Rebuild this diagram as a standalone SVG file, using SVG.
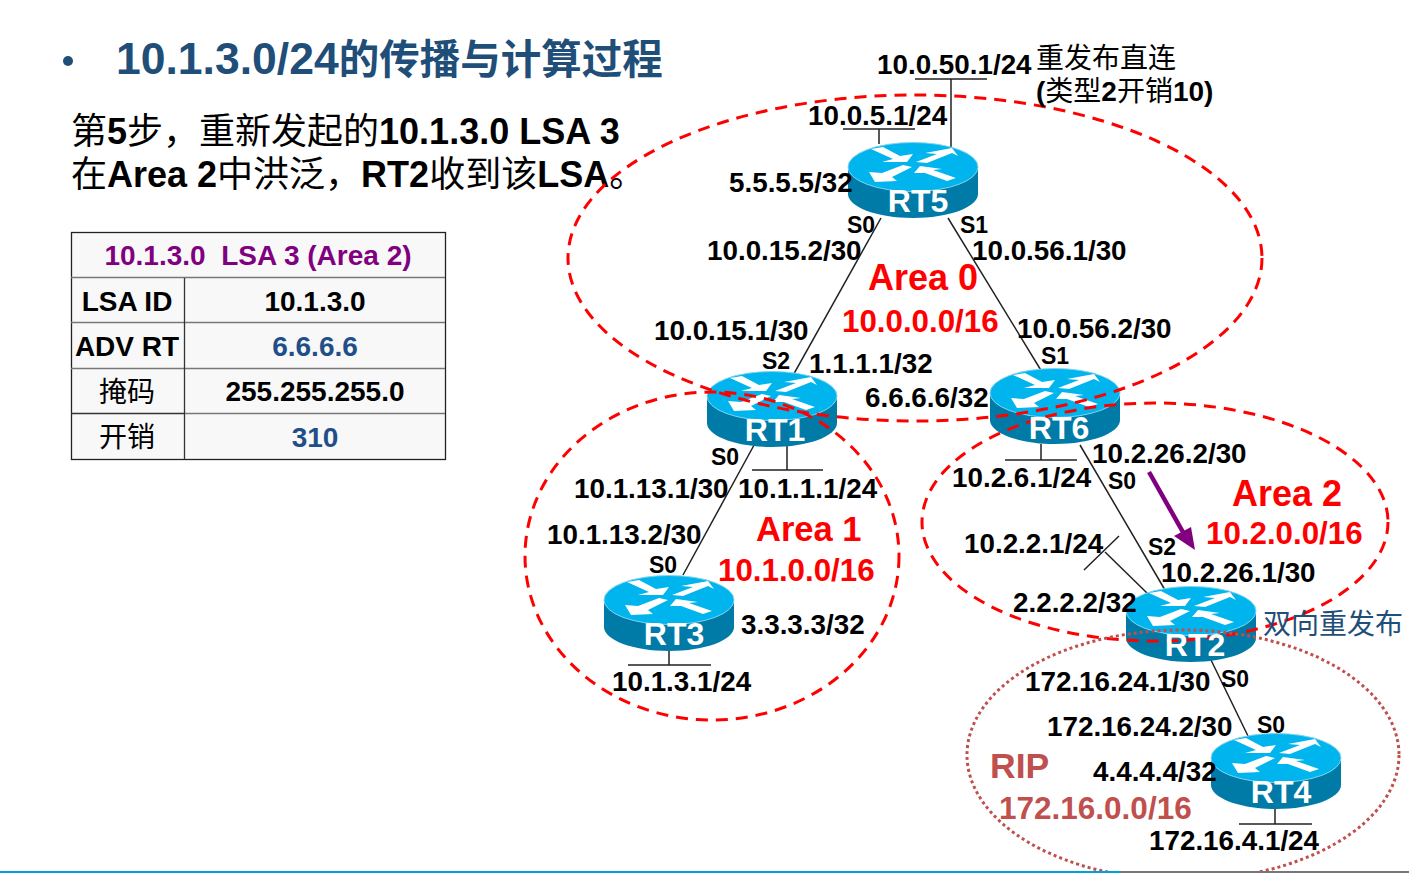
<svg xmlns="http://www.w3.org/2000/svg" width="1409" height="873" viewBox="0 0 1409 873">
<style>
text{font-family:"Liberation Sans","Noto Sans CJK SC",sans-serif;font-weight:700;fill:#000;white-space:pre}
.l{font-size:27.8px}
.s{font-size:23px}
.r{font-size:32px;fill:#fff;text-anchor:middle}
.a{font-size:36px;fill:#f00}
.n{font-size:31.3px;fill:#f00}
.c{text-anchor:middle}
.t{font-size:28px}
.w{font-weight:400}
.link{stroke:#222;stroke-width:1.5;fill:none}
.area{fill:none;stroke:#f00;stroke-width:3;stroke-dasharray:12 8}
.grid{stroke:#333;stroke-width:1.3;fill:none}
.gridh{stroke:#777;stroke-width:1.6;fill:none}
</style>
<defs>
<g id="router">
<path d="M-65 0V27C-65 40-36 51 0 51S65 40 65 27V0Z" fill="#007ba7"/>
<ellipse cx="0" cy="0" rx="65" ry="24.5" fill="#00b4ee" stroke="#7fd4ee" stroke-width="1"/>
<path d="M-42 -18L-30 -20L-13 -11L0 -13L-6 -5L-31 -5L-20 -8Z" fill="#fff"/>
<path d="M3 -5L24 -13L12 -14L39 -19L45 -11L39 -14L14 -4Z" fill="#fff"/>
<path d="M-44 5L-31 6L-10 -2L-1 0L-21 10L-16 14L-38 15Z" fill="#fff"/>
<path d="M1 6L7 -1L29 2L20 3L43 11L34 14L12 6Z" fill="#fff"/>
</g>
</defs>
<rect width="1409" height="873" fill="#fff"/>
<g id="title">
<circle cx="68" cy="61" r="5" fill="#1f4e79"/>
<text x="116" y="74" font-size="44.500" style="fill:#1f4e79">10.1.3.0/24<tspan font-size="40.500">的传播与计算过程</tspan></text>
</g>
<g id="description">
<text x="71" y="144" font-size="36"><tspan class="w">第</tspan>5<tspan class="w">步，重新发起的</tspan>10.1.3.0 LSA 3</text>
<text x="71" y="187" font-size="36"><tspan class="w">在</tspan>Area 2<tspan class="w">中洪泛，</tspan>RT2<tspan class="w">收到该</tspan>LSA<tspan class="w">。</tspan></text>
</g>
<g id="lsa-table">
<rect x="71.500" y="232.500" width="374" height="227" fill="#f8f8f8" stroke="#222" stroke-width="1.300"/>
<path class="gridh" d="M71 277.500H445M71 322.500H445M71 368.500H445M184 413.500H445"/>
<path class="grid" d="M71 413.500H184M184.500 278V459"/>
<text class="t c" x="258" y="265" style="fill:#800080">10.1.3.0  LSA 3 (Area 2)</text>
<text class="t c" x="127" y="311">LSA ID</text>
<text class="t c" x="315" y="311">10.1.3.0</text>
<text class="t c" x="127" y="356">ADV RT</text>
<text class="t c" x="315" y="356" style="fill:#1f4e89">6.6.6.6</text>
<text class="t c w" x="127" y="402">掩码</text>
<text class="t c" x="315" y="401">255.255.255.0</text>
<text class="t c w" x="127" y="447">开销</text>
<text class="t c" x="315" y="447" style="fill:#1f4e89">310</text>
</g>
<g id="connectors">
<path class="link" d="M881 218L753 447L683 575M948 218L1042 372M1080 445L1165 590M1211 660L1248 736"/>
<path class="link" d="M843 129H915M879 129V144M915 79H987M951 79V148"/>
<path class="link" d="M1005 460H1077M1041 444V460M787 446V470M752 470H823M669 651V665M628 665H711M1275 808V824M1239 824H1312M1084 570L1119 536M1105 552L1147 593"/>
<path d="M1149 472L1188 541" stroke="#800080" stroke-width="4.500" fill="none"/>
<path d="M1195 550L1174 536L1191 527Z" fill="#800080"/>
</g>
<g id="RT5"><use href="#router" x="913" y="167"/></g>
<g id="RT1"><use href="#router" x="772" y="396"/></g>
<g id="RT6"><use href="#router" x="1055" y="393"/></g>
<g id="RT3"><use href="#router" x="669" y="600"/></g>
<g id="RT2"><use href="#router" x="1191" y="611"/></g>
<g id="RT4"><use href="#router" x="1276" y="758"/></g>
<g id="areas">
<ellipse class="area" cx="915" cy="258" rx="347" ry="163"/>
<ellipse class="area" cx="712" cy="556" rx="187" ry="164"/>
<ellipse class="area" cx="1155" cy="522" rx="233" ry="119"/>
<ellipse cx="1183" cy="755" rx="216" ry="125" fill="none" stroke="#c0504d" stroke-width="3" stroke-dasharray="3 3"/>
</g>
<g id="router-names">
<text class="r" x="918" y="212">RT5</text>
<text class="r" x="775" y="441">RT1</text>
<text class="r" x="1059" y="439">RT6</text>
<text class="r" x="674" y="645">RT3</text>
<text class="r" x="1195" y="656">RT2</text>
<text class="r" x="1281" y="803">RT4</text>
</g>
<g id="labels">
<text class="l" x="877" y="74">10.0.50.1/24</text>
<text x="1036" y="68" font-size="28" class="w">重发布直连</text>
<text x="1036" y="101" font-size="28">(<tspan class="w">类型</tspan>2<tspan class="w">开销</tspan>10)</text>
<text class="l" x="808" y="125">10.0.5.1/24</text>
<text class="l" x="729" y="192">5.5.5.5/32</text>
<text class="s" x="847" y="233">S0</text>
<text class="s" x="960" y="233">S1</text>
<text class="l" x="707" y="260">10.0.15.2/30</text>
<text class="l" x="972" y="260">10.0.56.1/30</text>
<text class="a" x="868" y="290">Area 0</text>
<text class="n" x="842" y="332">10.0.0.0/16</text>
<text class="l" x="654" y="340">10.0.15.1/30</text>
<text class="l" x="1017" y="338">10.0.56.2/30</text>
<text class="s" x="1041" y="364">S1</text>
<text class="s" x="762" y="369">S2</text>
<text class="l" x="809" y="373">1.1.1.1/32</text>
<text class="l" x="865" y="407">6.6.6.6/32</text>
<text class="s" x="711" y="465">S0</text>
<text class="l" x="1092" y="463">10.2.26.2/30</text>
<text class="l" x="952" y="487">10.2.6.1/24</text>
<text class="s" x="1108" y="489">S0</text>
<text class="l" x="574" y="498">10.1.13.1/30</text>
<text class="l" x="738" y="498">10.1.1.1/24</text>
<text class="a" x="1232" y="506">Area 2</text>
<text class="n" x="1206" y="544">10.2.0.0/16</text>
<text x="756" y="541" font-size="34.500" style="fill:#f00">Area 1</text>
<text class="n" x="718" y="581">10.1.0.0/16</text>
<text class="l" x="547" y="544">10.1.13.2/30</text>
<text class="l" x="964" y="553">10.2.2.1/24</text>
<text class="s" x="1148" y="555">S2</text>
<text class="s" x="649" y="573">S0</text>
<text class="l" x="1161" y="582">10.2.26.1/30</text>
<text class="l" x="1013" y="612">2.2.2.2/32</text>
<text x="1263" y="634" font-size="28" class="w" style="fill:#1f4e79">双向重发布</text>
<text class="l" x="741" y="634">3.3.3.3/32</text>
<text class="l" x="612" y="691">10.1.3.1/24</text>
<text class="l" x="1025" y="691">172.16.24.1/30</text>
<text class="s" x="1221" y="687">S0</text>
<text class="l" x="1047" y="736">172.16.24.2/30</text>
<text class="s" x="1257" y="733">S0</text>
<text x="990" y="778" font-size="35.500" style="fill:#c0504d">RIP</text>
<text class="l" x="1093" y="781">4.4.4.4/32</text>
<text x="999" y="819" font-size="31.500" style="fill:#c0504d">172.16.0.0/16</text>
<text class="l" x="1149" y="850">172.16.4.1/24</text>
</g>
<g id="footer">
<path d="M0 872H1120" stroke="#00a0d8" stroke-width="2"/>
<path d="M1120 872H1409" stroke="#777" stroke-width="2"/>
</g>
</svg>
